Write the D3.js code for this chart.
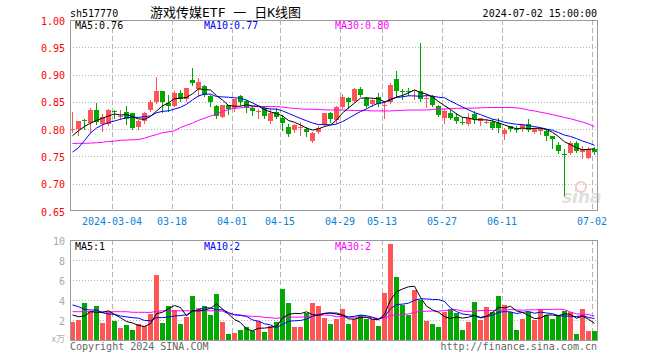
<!DOCTYPE html>
<html><head><meta charset="utf-8">
<script src="https://cdn.jsdelivr.net/npm/d3@7"></script>
<style>body{margin:0;background:#fff}svg{display:block}</style>
</head><body><svg id="c" width="660" height="360"></svg>
<script>
const dates = ["2024-02-22","2024-02-23","2024-02-26","2024-02-27","2024-02-28","2024-02-29",
"2024-03-01","2024-03-04","2024-03-05","2024-03-06","2024-03-07","2024-03-08","2024-03-11","2024-03-12","2024-03-13","2024-03-14","2024-03-15",
"2024-03-18","2024-03-19","2024-03-20","2024-03-21","2024-03-22","2024-03-25","2024-03-26","2024-03-27","2024-03-28","2024-03-29",
"2024-04-01","2024-04-02","2024-04-03","2024-04-08","2024-04-09","2024-04-10","2024-04-11","2024-04-12","2024-04-15","2024-04-16","2024-04-17","2024-04-18","2024-04-19",
"2024-04-22","2024-04-23","2024-04-24","2024-04-25","2024-04-26","2024-04-29","2024-04-30",
"2024-05-06","2024-05-07","2024-05-08","2024-05-09","2024-05-10","2024-05-13","2024-05-14","2024-05-15","2024-05-16","2024-05-17",
"2024-05-20","2024-05-21","2024-05-22","2024-05-23","2024-05-24","2024-05-27","2024-05-28","2024-05-29","2024-05-30","2024-05-31",
"2024-06-03","2024-06-04","2024-06-05","2024-06-06","2024-06-07","2024-06-11","2024-06-12","2024-06-13","2024-06-14",
"2024-06-17","2024-06-18","2024-06-19","2024-06-20","2024-06-21","2024-06-24","2024-06-25","2024-06-26","2024-06-27","2024-06-28",
"2024-07-01","2024-07-02"];

const open  = [0.800,0.801,0.816,0.812,0.835,0.809,0.810,0.834,0.822,0.831,0.829,0.804,0.815,0.835,0.849,0.869,0.847,0.843,0.866,0.855,
0.890,0.874,0.879,0.861,0.842,0.823,0.844,0.838,0.860,0.851,0.839,0.833,0.839,0.815,0.831,0.821,0.804,0.799,0.803,0.801,
0.779,0.795,0.809,0.829,0.816,0.840,0.857,0.852,0.873,0.857,0.846,0.858,0.843,0.849,0.891,0.870,0.870,0.870,0.869,0.855,
0.860,0.842,0.821,0.829,0.823,0.814,0.809,0.827,0.815,0.813,0.814,0.811,0.792,0.805,0.800,0.803,0.809,0.794,0.796,0.797,
0.788,0.771,0.754,0.757,0.775,0.758,0.748,0.764];
const high  = [0.832,0.815,0.818,0.838,0.848,0.827,0.837,0.835,0.835,0.843,0.830,0.816,0.831,0.853,0.896,0.870,0.862,0.869,0.871,0.876,
0.912,0.893,0.881,0.862,0.845,0.845,0.845,0.856,0.862,0.853,0.842,0.837,0.842,0.838,0.838,0.826,0.809,0.810,0.813,0.804,
0.794,0.806,0.830,0.831,0.843,0.864,0.859,0.875,0.877,0.859,0.856,0.866,0.852,0.885,0.906,0.873,0.876,0.872,0.957,0.864,
0.863,0.844,0.836,0.835,0.829,0.822,0.830,0.833,0.821,0.818,0.818,0.820,0.803,0.806,0.805,0.809,0.818,0.802,0.802,0.800,
0.788,0.777,0.763,0.779,0.779,0.769,0.767,0.767];
const low   = [0.795,0.789,0.800,0.795,0.809,0.796,0.807,0.821,0.819,0.809,0.801,0.801,0.812,0.833,0.848,0.832,0.833,0.842,0.851,0.852,
0.881,0.861,0.860,0.843,0.821,0.822,0.828,0.834,0.845,0.831,0.826,0.821,0.820,0.811,0.820,0.798,0.787,0.795,0.790,0.787,
0.776,0.793,0.805,0.813,0.811,0.838,0.838,0.850,0.861,0.841,0.843,0.843,0.820,0.848,0.858,0.856,0.862,0.855,0.852,0.840,
0.842,0.824,0.811,0.819,0.812,0.810,0.808,0.811,0.808,0.811,0.801,0.794,0.782,0.797,0.795,0.797,0.796,0.793,0.792,0.781,
0.765,0.756,0.680,0.755,0.758,0.747,0.747,0.754];
const close = [0.801,0.815,0.815,0.835,0.813,0.823,0.835,0.833,0.825,0.818,0.803,0.815,0.829,0.850,0.869,0.850,0.843,0.867,0.855,0.875,
0.884,0.887,0.862,0.850,0.824,0.844,0.837,0.855,0.850,0.838,0.833,0.834,0.824,0.829,0.823,0.812,0.791,0.808,0.804,0.795,
0.793,0.803,0.829,0.818,0.840,0.858,0.850,0.873,0.863,0.843,0.854,0.846,0.844,0.880,0.870,0.869,0.869,0.871,0.855,0.857,
0.844,0.826,0.833,0.821,0.815,0.813,0.820,0.818,0.820,0.814,0.803,0.803,0.799,0.800,0.799,0.808,0.799,0.801,0.801,0.788,
0.782,0.760,0.753,0.775,0.760,0.763,0.764,0.758];
const volume = [1.83,2.03,3.7,2.93,3.4,1.73,2.83,1.93,1.23,1.5,1.03,1.6,1.4,2.63,6.5,1.73,3.4,3.0,1.6,2.33,
4.4,3.2,3.4,2.5,4.6,1.83,0.6,0.7,1.03,1.33,0.9,1.9,0.8,1.4,1.8,5.1,3.7,1.3,1.3,2.7,
3.7,3.4,2.2,1.6,2.07,3.1,1.6,2.07,2.47,2.1,2.13,1.4,4.73,9.6,6.27,3.5,2.5,5.0,4.0,1.93,
1.6,1.33,2.83,3.07,2.7,1.0,1.8,3.8,2.0,3.3,2.83,4.4,3.5,2.83,1.0,2.1,2.8,2.0,3.1,2.5,
2.07,2.5,2.9,2.83,0.6,3.1,0.93,0.9];

// moving-average values before each window fills
const ma5Head  = [0.788,0.797,0.805,0.811];
const ma10Head = [0.758,0.766,0.779,0.793,0.802,0.808,0.812,0.815,0.818];
const ma30 = [0.7737,0.774,0.774,0.7745,0.775,0.776,0.7775,0.778,0.7795,0.780,0.7805,0.781,0.7835,0.787,0.790,0.7935,0.795,0.797,0.803,0.807,
0.811,0.816,0.820,0.824,0.828,0.832,0.836,0.838,0.839,0.840,0.841,0.8414,0.8414,0.8414,0.8414,0.8405,0.839,0.838,0.837,0.8365,
0.8365,0.836,0.8355,0.835,0.835,0.835,0.8345,0.834,0.834,0.834,0.8335,0.8334,0.8334,0.8334,0.834,0.8345,0.835,0.835,0.835,0.835,
0.836,0.8365,0.837,0.8375,0.838,0.8383,0.8383,0.8385,0.839,0.8395,0.8396,0.8396,0.8396,0.8396,0.839,0.8375,0.835,0.8333,0.831,0.829,
0.8265,0.824,0.8215,0.819,0.816,0.813,0.8095,0.8045];
const volMa5Head  = [2.5,2.33,2.4,2.83];
const volMa10Head = [3.5,3.33,3.07,3.0,3.0,2.73,2.6,2.57,2.4];
const volMa30Head = [2.83,2.83,2.83,2.83,2.83,2.83,2.83,2.83,2.83,2.83,2.77,2.77,2.77,2.75,2.88,2.92,2.92,2.92,2.92,2.92,
2.92,2.92,2.92,2.92,2.92,2.88,2.62,2.55,2.5];

const priceTicks = [0.65,0.70,0.75,0.80,0.85,0.90,0.95,1.00];
const volTicks = [2,4,6,8,10];
const tickDates  = ["2024-03-04","2024-03-18","2024-04-01","2024-04-15","2024-04-29","2024-05-13","2024-05-27","2024-06-11","2024-07-02"];
const tickLabels = ["2024-03-04","03-18","04-01","04-15","04-29","05-13","05-27","06-11","07-02"];

function rolling(arr, n, head){
  return arr.map((v,i)=> i < n-1 ? head[i] : d3.mean(arr.slice(i-n+1,i+1)));
}
const ma5 = rolling(close,5,ma5Head), ma10 = rolling(close,10,ma10Head);
const vma5 = rolling(volume,5,volMa5Head), vma10 = rolling(volume,10,volMa10Head), vma30 = rolling(volume,30,volMa30Head);

const RED="#ff5555", GREEN="#00a800", GRID="#b4b4b4", BORDER="#9a9a9a";
const MONO = "'DejaVu Sans Mono', 'Liberation Mono', monospace";
const CJK = "'Noto Sans CJK SC', sans-serif";
const svg = d3.select("#c");
const L=70, R=597, PT=20, PB=211, VT=240, VB=340;

const x = d3.scaleBand().domain(dates).range([69,597]).padding(0);
const cx = d => x(d)+3.5;
const yP = d3.scaleLinear().domain([0.65,1.00]).range([PB,PT]);
const yV = d3.scaleLinear().domain([0,10]).range([VB,VT]);

// horizontal grids
svg.append("g").selectAll("line").data(priceTicks.slice(1,-1)).join("line")
  .attr("x1",L).attr("x2",R).attr("y1",d=>Math.round(yP(d))+0.5).attr("y2",d=>Math.round(yP(d))+0.5)
  .attr("stroke",GRID).attr("stroke-dasharray","1,2");
svg.append("g").selectAll("line").data(volTicks.slice(0,-1)).join("line")
  .attr("x1",L).attr("x2",R).attr("y1",d=>Math.round(yV(d))+0.5).attr("y2",d=>Math.round(yV(d))+0.5)
  .attr("stroke",GRID).attr("stroke-dasharray","1,2");
// vertical grids
[[PT,PB],[VT,VB]].forEach(([t,b])=>{
  svg.append("g").selectAll("line").data(tickDates).join("line")
    .attr("x1",d=>x(d)+1.5).attr("x2",d=>x(d)+1.5).attr("y1",t).attr("y2",b)
    .attr("stroke",GRID).attr("stroke-dasharray","5,3");
});

// watermark
svg.append("text").attr("x",562).attr("y",203).text("sina")
  .attr("font-family","'DejaVu Sans', sans-serif").attr("font-size",17).attr("font-weight","bold")
  .attr("font-style","italic").attr("fill","#e0e0e0");
svg.append("circle").attr("cx",581).attr("cy",187).attr("r",5).attr("fill","none").attr("stroke","#f3c9c9").attr("stroke-width",2);

// candles
const up = i => close[i] >= open[i];
const cg = svg.append("g");
dates.forEach((d,i)=>{
  const col = up(i)?RED:GREEN;
  cg.append("line").attr("x1",cx(d)).attr("x2",cx(d))
    .attr("y1",Math.round(yP(high[i]))).attr("y2",Math.round(yP(low[i]))+1).attr("stroke",col);
  const t = Math.round(yP(Math.max(open[i],close[i]))), b = Math.round(yP(Math.min(open[i],close[i])));
  cg.append("rect").attr("x",x(d)+1).attr("width",5).attr("y",t).attr("height",Math.max(1,b-t)).attr("fill",col);
});
// volume bars
svg.append("g").selectAll("rect").data(dates).join("rect")
  .attr("x",d=>x(d)+1).attr("width",5)
  .attr("y",(d,i)=>Math.round(yV(volume[i]))).attr("height",(d,i)=>VB-Math.round(yV(volume[i])))
  .attr("fill",(d,i)=>up(i)?RED:GREEN);

// MA lines
function drawLine(vals, ys, color){
  svg.append("path").datum(vals)
    .attr("d", d3.line().x((v,i)=>cx(dates[i])).y(v=>ys(v)))
    .attr("fill","none").attr("stroke",color).attr("stroke-width",1);
}
drawLine(ma30,yP,"#ff00ff"); drawLine(ma10,yP,"#0000ff"); drawLine(ma5,yP,"#000000");
drawLine(vma30,yV,"#ff00ff"); drawLine(vma10,yV,"#0000ff"); drawLine(vma5,yV,"#000000");

// borders
svg.append("rect").attr("x",L+0.5).attr("y",PT+0.5).attr("width",R-L).attr("height",PB-PT-1)
  .attr("fill","none").attr("stroke",BORDER);
svg.append("rect").attr("x",L+0.5).attr("y",VT+0.5).attr("width",R-L).attr("height",VB-VT)
  .attr("fill","none").attr("stroke",BORDER);

// axes
const ya = svg.append("g").attr("transform",`translate(${L},0)`)
  .call(d3.axisLeft(yP).tickValues(priceTicks).tickFormat(d3.format(".2f")).tickSize(0).tickPadding(5));
ya.select(".domain").remove();
ya.selectAll("text").attr("fill","#ff0000").attr("font-family",MONO).attr("font-size",10).attr("dy","0.4em");
const va = svg.append("g").attr("transform",`translate(${L},0)`)
  .call(d3.axisLeft(yV).tickValues(volTicks).tickSize(0).tickPadding(5));
va.select(".domain").remove();
va.selectAll("text").attr("fill","#a8a8a8").attr("font-family",MONO).attr("font-size",10).attr("dy","0.4em");
const xa = svg.append("g").attr("transform",`translate(-2,${PB})`)
  .call(d3.axisBottom(x).tickValues(tickDates).tickFormat((d,i)=>tickLabels[i]).tickSize(0).tickPadding(7));
xa.select(".domain").remove();
xa.selectAll("text").attr("fill","#0a84d8").attr("font-family",MONO).attr("font-size",10);

// texts
function txt(s,xx,yy,opt={}){
  return svg.append("text").attr("x",xx).attr("y",yy).text(s)
    .attr("font-family",opt.ff||MONO).attr("font-size",opt.fs||10)
    .attr("fill",opt.fill||"#000").attr("text-anchor",opt.anchor||"start");
}
txt("sh517770",70,17);
// title with mixed CJK / Latin runs
const title = svg.append("text").attr("x",150).attr("y",17).attr("font-size",13).attr("fill","#000")
  .attr("xml:space","preserve").style("white-space","pre");
[["游戏传媒",CJK],["ETF ",MONO],["一",CJK],[" ",MONO],["日",CJK],["K",MONO],["线图",CJK]].forEach(([s,f])=>{
  title.append("tspan").attr("font-family",f).text(s);
});
txt("2024-07-02 15:00:00",597,17,{anchor:"end"});
const f2 = d3.format(".2f");
txt("MA5:"+f2(ma5[ma5.length-1]),75,29);
txt("MA10:"+f2(ma10[ma10.length-1]),204,29,{fill:"#0000ff"});
txt("MA30:"+f2(ma30[ma30.length-1]),335,29,{fill:"#ff00ff"});
txt("MA5:"+Math.floor(vma5[vma5.length-1]),75,250);
txt("MA10:"+Math.floor(vma10[vma10.length-1]),204,250,{fill:"#0000ff"});
txt("MA30:"+Math.floor(vma30[vma30.length-1]),335,250,{fill:"#ff00ff"});
txt("x万",65,342,{anchor:"end",fill:"#b0b0b0",fs:9,ff:CJK});
txt("Copyright 2024 SINA.COM",70,350,{fill:"#666"});
txt("http://finance.sina.com.cn",597,350,{fill:"#666",anchor:"end"});
</script></body></html>
